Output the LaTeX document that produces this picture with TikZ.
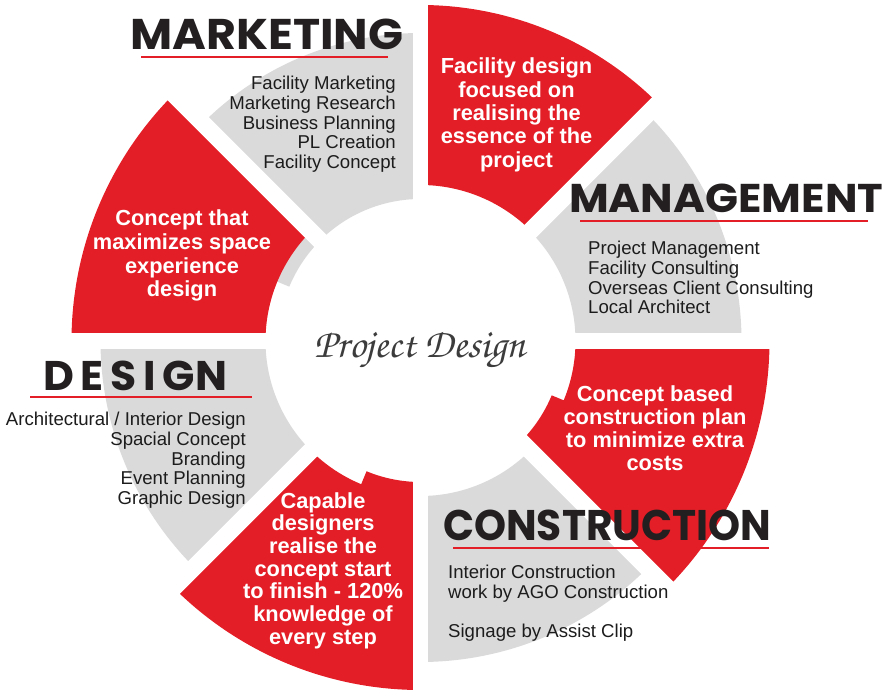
\documentclass[tikz,border=0pt]{standalone}
\usepackage[T1]{fontenc}
\usepackage{fontspec}
\setmainfont{Liberation Sans}
\newfontfamily\headfont{Poppins}
\usetikzlibrary{calc}
\definecolor{segred}{RGB}{228,30,38}
\definecolor{seggray}{RGB}{217,218,217}
\definecolor{ink}{RGB}{28,28,28}
\definecolor{headink}{RGB}{35,31,32}
\definecolor{scriptink}{RGB}{60,60,60}
\newcommand{\ringsec}[5]{\fill[#1] ($(C)+(#2:#5)$) arc[start angle=#2,end angle=#3,radius=#5] -- ($(C)+(#3:#4)$) arc[start angle=#3,end angle=#2,radius=#4] -- cycle;}
\newcommand{\headtxt}[3]{\resizebox{#1pt}{#2pt}{\headfont\bfseries #3}}
\tikzset{
  heading/.style={text=headink, inner sep=0pt, anchor=base west},
  uline/.style={draw=segred, line width=1.5pt},
  listtxt/.style={font=\fontsize{18.6}{19.6}\selectfont, text=ink, inner sep=0pt},
  redtxt/.style={font=\bfseries\fontsize{21.8}{23.3}\selectfont, text=white, inner sep=0pt, align=center, anchor=base},
  gapline/.style={draw=white, line width=#1},
}
\begin{document}
\begin{tikzpicture}[x=1pt,y=1pt]
\useasboundingbox (0,0) rectangle (890,697);
\coordinate (C) at (420.5,356);
% grey sectors
\ringsec{seggray}{90}{135}{142}{308}
\ringsec{seggray}{0}{45}{155}{321}
\ringsec{seggray}{-90}{-45}{155}{321}
\ringsec{seggray}{180}{225}{155}{320}
\ringsec{seggray}{135}{157.5}{142}{160}
% red sectors
\ringsec{segred}{45}{90}{156}{336}
\ringsec{segred}{135}{180}{155}{349}
\fill[segred] ($(C)+(-45:349)$) arc[start angle=-45,end angle=0,radius=349]
  -- ($(C)+(0:155)$) arc[start angle=0,end angle=-22.5,radius=155]
  -- ($(C)+(-22.5:142)$) arc[start angle=-22.5,end angle=-45,radius=142] -- cycle;
\fill[segred] ($(C)+(-135:349)$) arc[start angle=-135,end angle=-90,radius=349]
  -- ($(C)+(-90:141)$) arc[start angle=-90,end angle=-112.5,radius=141]
  -- ($(C)+(-112.5:155)$) arc[start angle=-112.5,end angle=-135,radius=155] -- cycle;
% gaps
\draw[gapline=16pt] ($(C)+(0:365)$) -- ($(C)+(180:365)$);
\draw[gapline=15pt] ($(C)+(90:365)$) -- ($(C)+(270:365)$);
\draw[gapline=17pt] ($(C)+(45:365)$) -- ($(C)+(225:365)$);
\draw[gapline=17pt] ($(C)+(135:365)$) -- ($(C)+(315:365)$);
% centre
\node[inner sep=0pt, anchor=base, text=scriptink] (centre) at (420,340)
  {\fontencoding{T1}\fontfamily{pzc}\fontseries{mb}\fontshape{it}\fontsize{41}{41}\selectfont Project Design};
% headings
\node[heading] (mkt) at (130,647) {\headtxt{273}{30.5}{MARKETING}};
\draw[uline] (141,640) -- (388,640);
\node[heading] (mgmt) at (569,484) {\headtxt{314}{28.5}{MANAGEMENT}};
\draw[uline] (580,476) -- (868,476);
\node[heading] (cons) at (443,157) {\headtxt{328}{30.5}{CONSTRUCTION}};
\draw[uline] (453,149) -- (769,149);
\node[heading] (des) at (43,307) {\resizebox{184pt}{29.5pt}{\headfont\bfseries\addfontfeature{LetterSpace=16}DESIG\addfontfeature{LetterSpace=0}N}};
\draw[uline] (30,300) -- (252,300);
% lists (anchor at baseline of last line)
\node[listtxt, anchor=base east, align=right] (mktlist) at (396,528.6)
  {Facility Marketing\\Marketing Research\\Business Planning\\PL Creation\\Facility Concept};
\node[listtxt, anchor=base west, align=left] (mgmtlist) at (588,383.4)
  {Project Management\\Facility Consulting\\Overseas Client Consulting\\Local Architect};
\node[listtxt, anchor=base east, align=right] (deslist) at (246,192.8)
  {Architectural / Interior Design\\Spacial Concept\\Branding\\Event Planning\\Graphic Design};
\node[listtxt, font=\fontsize{18.6}{20}\selectfont, anchor=base west, align=left] (conslist) at (448,60)
  {Interior Construction\\work by AGO Construction\\[19pt]Signage by Assist Clip};
% red texts (anchor at baseline of last line)
\node[redtxt] (redtop) at (516.5,529.8)
  {Facility design\\focused on\\realising the\\essence of the\\project};
\node[redtxt, font=\bfseries\fontsize{21.8}{23.7}\selectfont] (redleft) at (182,400.3)
  {Concept that\\maximizes space\\experience\\design};
\node[redtxt] (redbr) at (655,226.1)
  {Concept based\\construction plan\\to minimize extra\\costs};
\node[redtxt, font=\bfseries\fontsize{21.8}{22.7}\selectfont] (redbl) at (323,52.8)
  {Capable\\designers\\realise the\\concept start\\to finish - 120\%\\knowledge of\\every step};
\end{tikzpicture}
\end{document}
